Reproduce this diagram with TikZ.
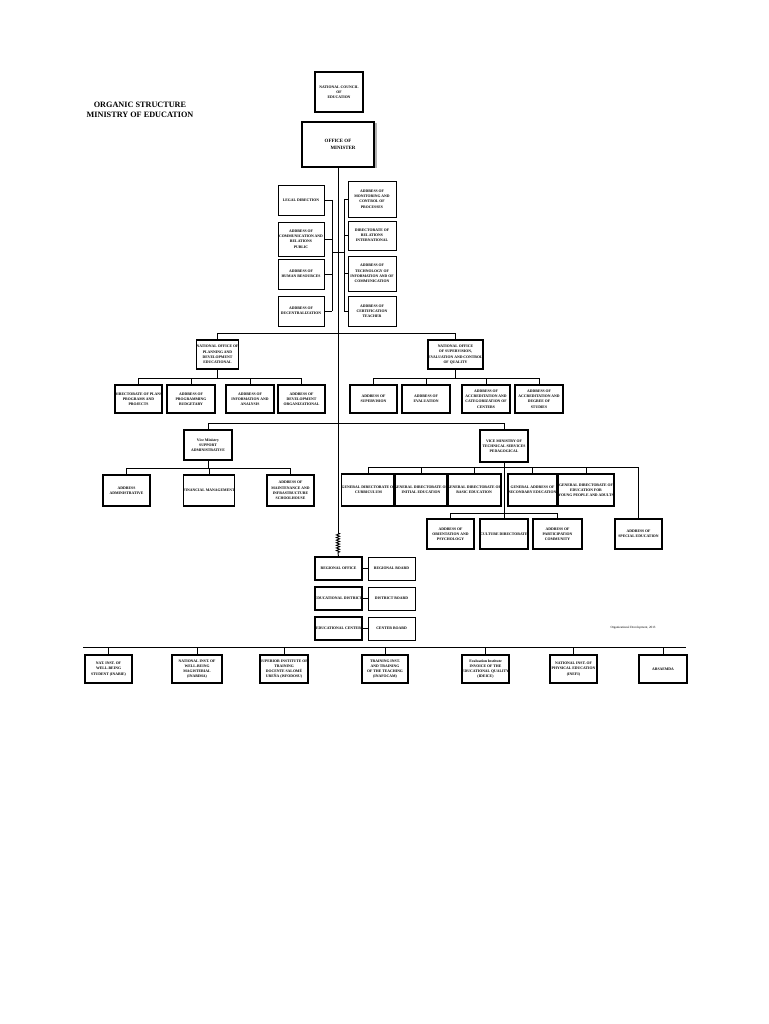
\documentclass[tikz,border=0pt]{standalone}
\usepackage{fontspec}
\setmainfont{Liberation Serif}
\usetikzlibrary{decorations.pathmorphing}
\newcommand{\orgbox}[7]{\node[#1, minimum width={(#5-#3)*1pt}, minimum height={(#6-#4)*1pt}] (#2) at ({(#3+#5)/2},{(#4+#6)/2}) {#7};}
\begin{document}
\begin{tikzpicture}[x=1pt,y=-1pt,
  tiny/.style={font=\bfseries\fontsize{3.8}{5.2}\selectfont},
  thinbox/.style={draw, line width=0.7pt, inner sep=0pt, align=center, tiny},
  thickbox/.style={draw, line width=1.7pt, inner sep=0pt, align=center, tiny},
  midbox/.style={draw, line width=1.2pt, inner sep=0pt, align=center, tiny},
  conn/.style={line width=0.7pt},
  trunk/.style={line width=0.9pt}]
\useasboundingbox (0,0) rectangle (768,1024);
\fill[white] (0,0) rectangle (768,1024);

% title
\node[font=\bfseries\fontsize{8.2}{9.5}\selectfont, align=center] (title) at (140,110) {ORGANIC STRUCTURE\\MINISTRY OF EDUCATION};

% top
\orgbox{midbox}{council}{315}{72}{363}{112}{NATIONAL COUNCIL\\OF\\EDUCATION}
\fill[gray!60] (303.5,123.5) rectangle (376.5,168);
\orgbox{thickbox, fill=white, font=\bfseries\fontsize{4.9}{7}\selectfont}{minister}{302}{122}{374}{167}{OFFICE OF\\\hspace*{10pt}MINISTER}

% staff left
\orgbox{thinbox}{legal}{278}{185}{324}{215}{LEGAL DIRECTION}
\orgbox{thinbox}{comm}{278}{222}{324}{256}{ADDRESS OF\\COMMUNICATION AND\\RELATIONS\\PUBLIC}
\orgbox{thinbox}{hr}{278}{259}{324}{289}{ADDRESS OF\\HUMAN RESOURCES}
\orgbox{thinbox}{dec}{278}{296}{324}{326}{ADDRESS OF\\DECENTRALIZATION}
% staff right
\orgbox{thinbox}{mon}{348}{181}{396}{217}{ADDRESS OF\\MONITORING AND\\CONTROL OF\\PROCESSES}
\orgbox{thinbox}{rel}{348}{221}{396}{250}{DIRECTORATE OF\\RELATIONS\\INTERNATIONAL}
\orgbox{thinbox}{tec}{348}{256}{396}{291}{ADDRESS OF\\TECHNOLOGY OF\\INFORMATION AND OF\\COMMUNICATION}
\orgbox{thinbox}{cert}{348}{296}{396}{326}{ADDRESS OF\\CERTIFICATION\\TEACHER}

% level 2
\orgbox{thickbox}{plan}{197}{340}{238}{369}{NATIONAL OFFICE OF\\PLANNING AND\\DEVELOPMENT\\EDUCATIONAL}
\orgbox{thickbox}{sup}{432}{340}{479}{369}{NATIONAL OFFICE\\OF SUPERVISION,\\EVALUATION AND CONTROL\\OF QUALITY}
\orgbox{thickbox}{pc1}{115}{385}{162}{413}{DIRECTORATE OF PLANS\\PROGRAMS AND\\PROJECTS}
\orgbox{thickbox}{pc2}{167}{385}{215}{413}{ADDRESS OF\\PROGRAMMING\\BUDGETARY}
\orgbox{thickbox}{pc3}{226}{385}{274}{413}{ADDRESS OF\\INFORMATION AND\\ANALYSIS}
\orgbox{thickbox}{pc4}{278}{385}{325}{413}{ADDRESS OF\\DEVELOPMENT\\ORGANIZATIONAL}
\orgbox{thickbox}{sc1}{350}{385}{397}{413}{ADDRESS OF\\SUPERVISION}
\orgbox{thickbox}{sc2}{402}{385}{450}{413}{ADDRESS OF\\EVALUATION}
\orgbox{thickbox}{sc3}{462}{385}{510}{413}{ADDRESS OF\\ACCREDITATION AND\\CATEGORIZATION OF\\CENTERS}
\orgbox{thickbox}{sc4}{515}{385}{563}{413}{ADDRESS OF\\ACCREDITATION AND\\DEGREE OF\\STUDIES}

% level 3
\orgbox{thickbox}{vma}{184}{430}{232}{460}{Vice Ministry\\SUPPORT\\ADMINISTRATIVE}
\orgbox{thickbox}{va1}{103}{475}{150}{506}{ADDRESS\\ADMINISTRATIVE}
\orgbox{thickbox}{va2}{185}{475}{233}{506}{FINANCIAL MANAGEMENT}
\orgbox{thickbox}{va3}{267}{475}{314}{506}{ADDRESS OF\\MAINTENANCE AND\\INFRASTRUCTURE\\SCHOOLHOUSE}
\orgbox{thickbox}{vmt}{480}{430}{528}{462}{VICE MINISTRY OF\\TECHNICAL SERVICES\\PEDAGOGICAL}
\orgbox{thickbox}{t1}{343}{474}{394}{506}{GENERAL DIRECTORATE OF\\CURRICULUM}
\orgbox{thickbox}{t2}{397}{474}{445}{506}{GENERAL DIRECTORATE OF\\INITIAL EDUCATION}
\orgbox{thickbox}{t3}{450}{474}{498}{506}{GENERAL DIRECTORATE OF\\BASIC EDUCATION}
\orgbox{thickbox}{t4}{508}{474}{557}{506}{GENERAL ADDRESS OF\\SECONDARY EDUCATION}
\orgbox{thickbox}{t5}{562}{474}{610}{506}{GENERAL DIRECTORATE OF\\EDUCATION FOR\\YOUNG PEOPLE AND ADULTS}
\orgbox{thickbox}{u1}{427}{519}{474}{549}{ADDRESS OF\\ORIENTATION AND\\PSYCHOLOGY}
\orgbox{thickbox}{u2}{480}{519}{528}{549}{CULTURE DIRECTORATE}
\orgbox{thickbox}{u3}{533}{519}{582}{549}{ADDRESS OF\\PARTICIPATION\\COMMUNITY}
\orgbox{thickbox}{sp}{615}{519}{662}{549}{ADDRESS OF\\SPECIAL EDUCATION}

% regional
\orgbox{thickbox}{ro}{315}{557}{362}{580}{REGIONAL OFFICE}
\orgbox{thinbox}{rb}{368}{557}{415}{580}{REGIONAL BOARD}
\orgbox{thickbox}{ed}{315}{587}{362}{610}{EDUCATIONAL DISTRICT}
\orgbox{thinbox}{db}{368}{587}{415}{610}{DISTRICT BOARD}
\orgbox{thickbox}{ec}{315}{617}{362}{640}{EDUCATIONAL CENTER}
\orgbox{thinbox}{cb}{368}{617}{415}{640}{CENTER BOARD}
\node[font=\fontsize{3.2}{4}\selectfont] (orgdev) at (633,628) {Organizational Development, 2013};

% bottom row
\orgbox{thickbox}{b1}{85}{655}{132}{683}{NAT. INST. OF\\WELL-BEING\\STUDENT (INABIE)}
\orgbox{thickbox}{b2}{172}{655}{222}{683}{NATIONAL INST. OF\\WELL-BEING\\MAGISTERIAL\\(INABIMA)}
\orgbox{thickbox}{b3}{260}{655}{308}{683}{SUPERIOR INSTITUTE OF\\TRAINING\\DOCENTE SALOMÉ\\UREÑA (ISFODOSU)}
\orgbox{thickbox}{b4}{362}{655}{408}{683}{TRAINING INST.\\AND TRAINING\\OF THE TEACHING\\(INAFOCAM)}
\orgbox{thickbox}{b5}{462}{655}{509}{683}{Evaluation Institute\\INVOICE OF THE\\EDUCATIONAL QUALITY\\(IDEICE)}
\orgbox{thickbox}{b6}{550}{655}{597}{683}{NATIONAL INST. OF\\PHYSICAL EDUCATION\\(INEFI)}
\orgbox{thickbox}{b7}{639}{655}{687}{683}{ARSAEMDA}

% coordinates
\coordinate (zzA) at (338,533);
\coordinate (zzB) at (338,553);
\coordinate (lb) at (332,252);
\coordinate (rbk) at (344,252);
\coordinate (l2) at (338,333);
\coordinate (pb) at (0,378);
\coordinate (l3) at (338,423);
\coordinate (vb) at (0,468);
\coordinate (tb) at (0,467);
\coordinate (ub) at (0,513);
\coordinate (busL) at (83,647);
\coordinate (busR) at (686,647);

% trunk
\draw[trunk] (minister.south) -- (minister.south |- zzA);
\draw[trunk, decorate, decoration={zigzag, amplitude=1.6pt, segment length=2.6pt}] (zzA) -- (zzB);
\draw[trunk] (zzB) -- (ro.north);

% staff brackets
\foreach \b in {legal,comm,hr,dec} \draw[conn] (\b.east) -- (\b.east -| lb);
\draw[conn] (legal.east -| lb) -- (dec.east -| lb);
\foreach \b in {mon,rel,tec,cert} \draw[conn] (\b.west) -- (\b.west -| rbk);
\draw[conn] (mon.west -| rbk) -- (cert.west -| rbk);
\draw[conn] (lb) -- (rbk);

% level 2
\draw[conn] (plan.north) -- (plan.north |- l2) -- (sup.north |- l2) -- (sup.north);
\draw[conn] (plan.south) -- (plan.south |- pb);
\draw[conn] (pc1.north) -- (pc1.north |- pb) -- (pc4.north |- pb) -- (pc4.north);
\draw[conn] (pc2.north) -- (pc2.north |- pb);
\draw[conn] (pc3.north) -- (pc3.north |- pb);
\draw[conn] (sup.south) -- (sup.south |- pb);
\draw[conn] (sc1.north) -- (sc1.north |- pb) -- (sc4.north |- pb) -- (sc4.north);
\draw[conn] (sc2.north) -- (sc2.north |- pb);
\draw[conn] (sc3.north) -- (sc3.north |- pb);

% level 3 left
\draw[conn] (vma.north) -- (vma.north |- l3) -- (vmt.north |- l3) -- (vmt.north);
\draw[conn] (vma.south) -- (vma.south |- vb);
\draw[conn] (va1.north) -- (va1.north |- vb) -- (va3.north |- vb) -- (va3.north);
\draw[conn] (va2.north) -- (va2.north |- vb);

% level 3 right
\draw[conn] (vmt.south) -- (u2.north);
\draw[conn] (t1.north) -- (t1.north |- tb) -- (sp.north |- tb) -- (sp.north);
\foreach \b in {t2,t3,t4,t5} \draw[conn] (\b.north) -- (\b.north |- tb);
\draw[conn] (u1.north) -- (u1.north |- ub) -- (u3.north |- ub) -- (u3.north);

% regional links
\draw[conn] (ro) -- (rb);
\draw[conn] (ed) -- (db);
\draw[conn] (ec) -- (cb);

% bottom bus
\draw[line width=1pt] (busL) -- (busR);
\foreach \b in {b1,b2,b3,b4,b5,b6,b7} \draw[conn] (\b.north) -- (\b.north |- busL);
\end{tikzpicture}
\end{document}
